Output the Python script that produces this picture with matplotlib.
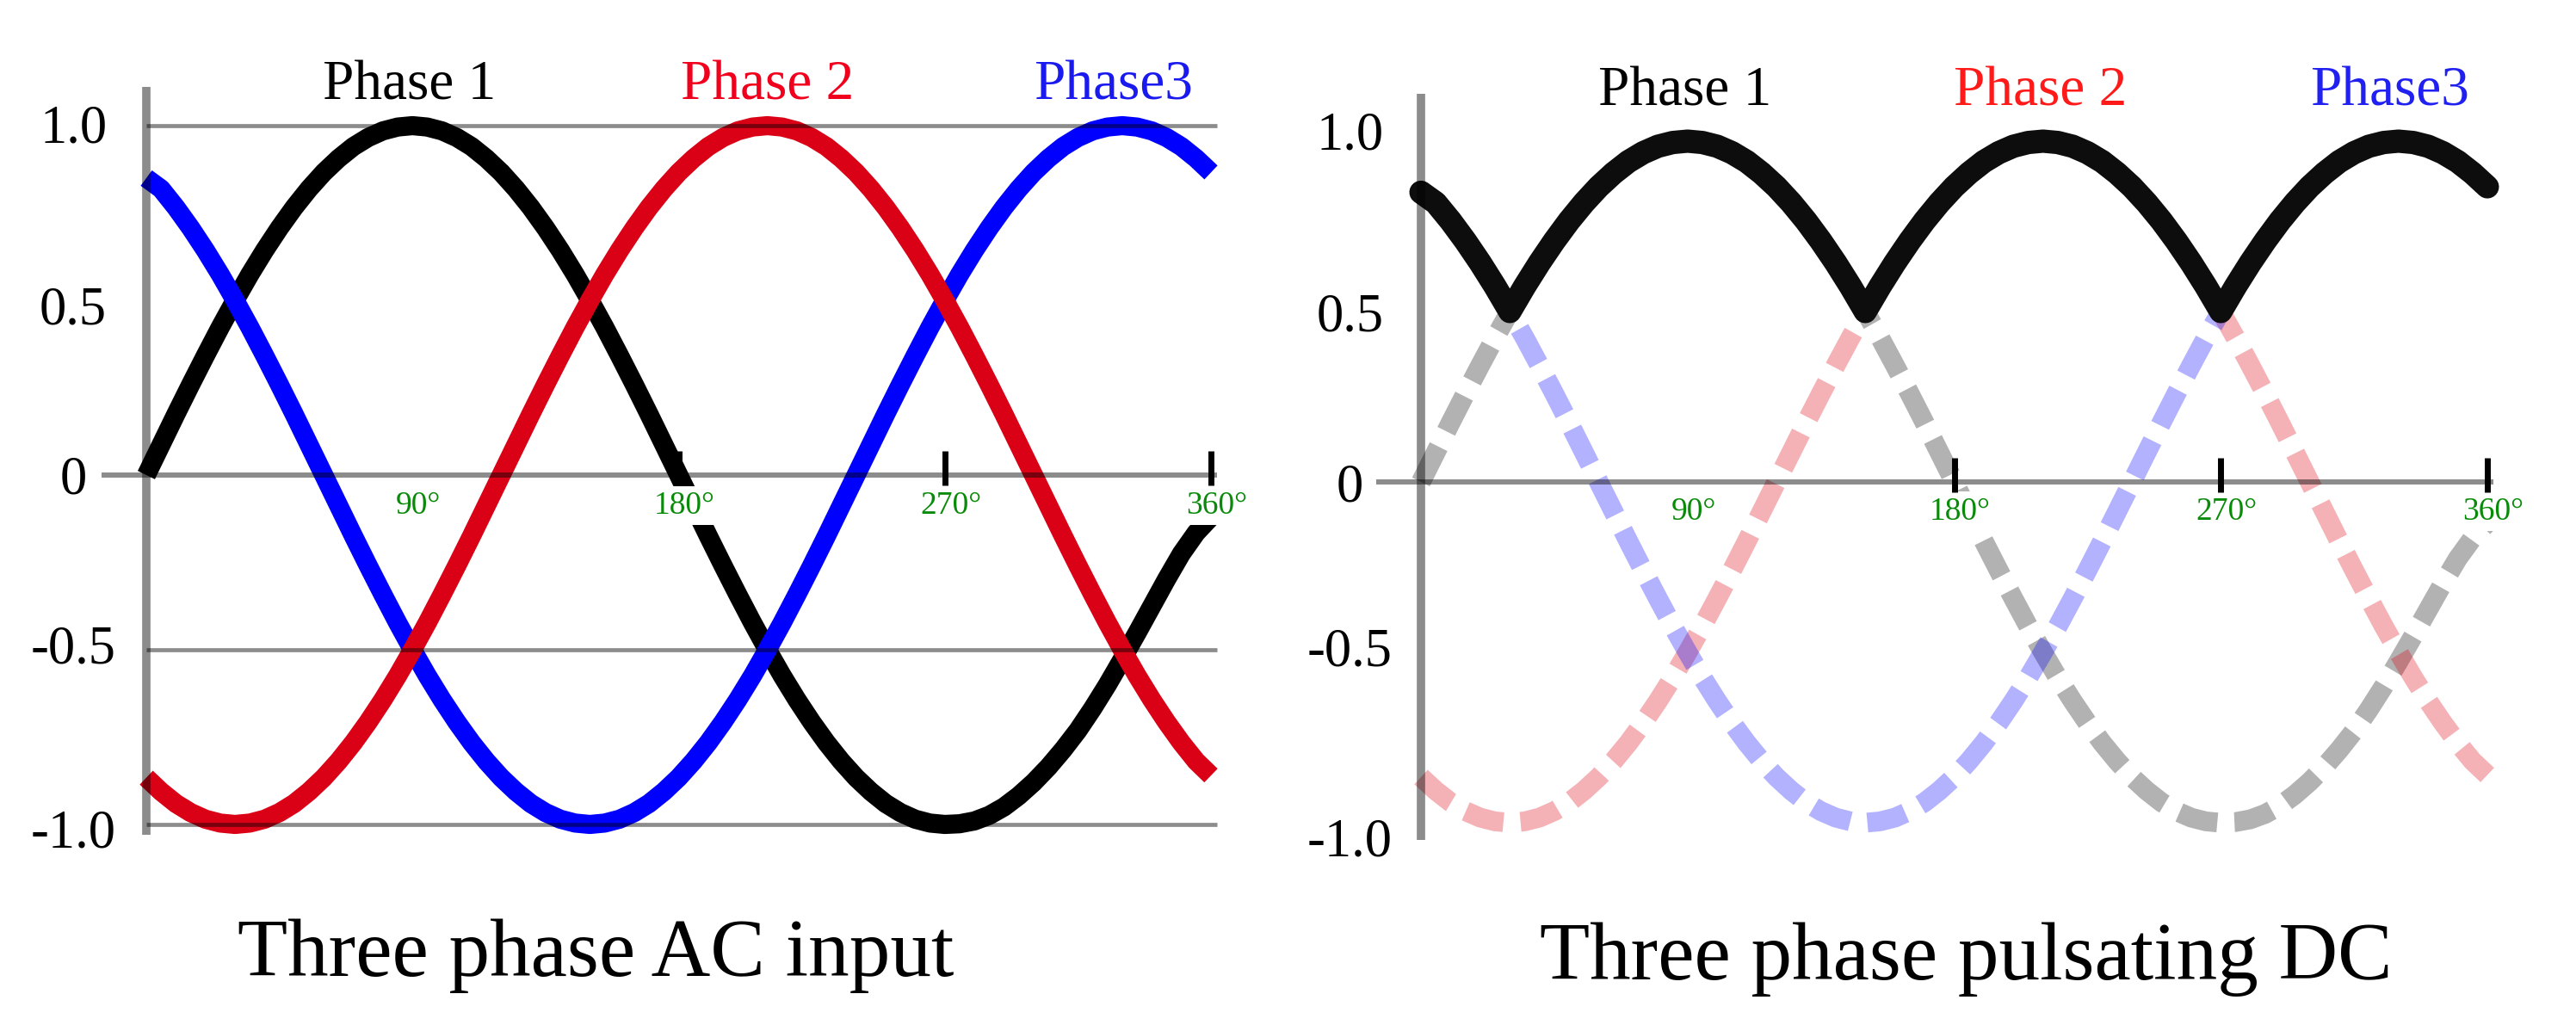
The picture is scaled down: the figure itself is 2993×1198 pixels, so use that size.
import numpy as np
import matplotlib
matplotlib.use("Agg")
import matplotlib.pyplot as plt

plt.rcParams['font.family'] = ['Liberation Serif', 'DejaVu Serif']

# angle steps (degrees) and the three phase voltages
angles = np.arange(0, 361, 5)
phase1 = [0.0, 0.087, 0.174, 0.259, 0.342, 0.423, 0.5, 0.574, 0.643, 0.707,
          0.766, 0.819, 0.866, 0.906, 0.940, 0.966, 0.985, 0.996, 1.0, 0.996,
          0.985, 0.966, 0.940, 0.906, 0.866, 0.819, 0.766, 0.707, 0.643, 0.574,
          0.5, 0.423, 0.342, 0.259, 0.174, 0.087, 0.0,
          -0.087, -0.174, -0.259, -0.342, -0.423, -0.5, -0.574, -0.643, -0.707,
          -0.766, -0.819, -0.866, -0.906, -0.940, -0.966, -0.985, -0.996, -1.0,
          -0.998, -0.990, -0.974, -0.950, -0.918, -0.880, -0.836, -0.786, -0.731,
          -0.668, -0.600, -0.527, -0.452, -0.375, -0.298, -0.225, -0.165, -0.12]
phase2 = [-0.866, -0.906, -0.940, -0.966, -0.985, -0.996, -1.0, -0.996, -0.985,
          -0.966, -0.940, -0.906, -0.866, -0.819, -0.766, -0.707, -0.643, -0.574,
          -0.5, -0.423, -0.342, -0.259, -0.174, -0.087, 0.0,
          0.087, 0.174, 0.259, 0.342, 0.423, 0.5, 0.574, 0.643, 0.707, 0.766,
          0.819, 0.866, 0.906, 0.940, 0.966, 0.985, 0.996, 1.0,
          0.996, 0.985, 0.966, 0.940, 0.906, 0.866,
          0.819, 0.766, 0.707, 0.643, 0.574, 0.5, 0.423, 0.342, 0.259, 0.174,
          0.087, 0.0,
          -0.087, -0.174, -0.259, -0.342, -0.423, -0.5, -0.574, -0.643, -0.707,
          -0.766, -0.819, -0.86]
phase3 = [0.85, 0.819, 0.766, 0.707, 0.643, 0.574, 0.5,
          0.423, 0.342, 0.259, 0.174, 0.087, 0.0,
          -0.087, -0.174, -0.259, -0.342, -0.423, -0.5,
          -0.574, -0.643, -0.707, -0.766, -0.819, -0.866,
          -0.906, -0.940, -0.966, -0.985, -0.996, -1.0,
          -0.996, -0.985, -0.966, -0.940, -0.906, -0.866,
          -0.819, -0.766, -0.707, -0.643, -0.574, -0.5, -0.423, -0.342, -0.259,
          -0.174, -0.087, 0.0,
          0.087, 0.174, 0.259, 0.342, 0.423, 0.5, 0.574, 0.643, 0.707, 0.766,
          0.819, 0.866,
          0.906, 0.940, 0.966, 0.985, 0.996, 1.0,
          0.996, 0.985, 0.966, 0.940, 0.906, 0.866]

ytick_values = [1.0, 0.5, 0.0, -0.5, -1.0]
ytick_labels = ["1.0", "0.5", "0", "-0.5", "-1.0"]
deg_ticks = [90, 180, 270, 360]
deg_labels = ["90°", "180°", "270°", "360°"]
phase_names = ["Phase 1", "Phase 2", "Phase3"]
titles = ["Three phase AC input", "Three phase pulsating DC"]

W, H = 2993, 1198
fig = plt.figure(figsize=(W / 100, H / 100), dpi=100)

GRAY = dict(color="black", alpha=0.45, solid_capstyle="butt")
GREEN = "#0a8a0a"


def panel(x0, x360, y0, yunit):
    # axes over the whole figure, scaled so that 0..360 deg lands on x0..x360 px
    ax = fig.add_axes([0, 0, 1, 1])
    sx = (x360 - x0) / 360.0
    ax.set_xlim(-x0 / sx, (W - x0) / sx)
    ax.set_ylim(-(H - y0) / yunit, y0 / yunit)
    ax.set_axis_off()
    return ax


def decorate(ax, title, yaxis_top, yaxis_bot, name_y, name_x, name_colors,
             lab_x, lab_ys, deg_y, title_x, title_y):
    ax.plot([0, 0], [yaxis_bot, yaxis_top], lw=7, zorder=4, **GRAY)
    ax.plot([-15, 362], [0, 0], lw=4.3, zorder=4, **GRAY)
    for d in deg_ticks[1:]:
        ax.plot([d, d], [0.07, -0.03], color="black", lw=5, zorder=5,
                solid_capstyle="butt")
    for d, s in zip(deg_ticks, deg_labels):
        ax.text(d + 2, deg_y, s, color=GREEN, fontsize=27, ha="center",
                va="baseline", zorder=3.5,
                bbox=dict(facecolor="white", edgecolor="none", pad=4))
    for s, yy in zip(ytick_labels, lab_ys):
        ax.text(lab_x, yy, s, fontsize=45, ha="center", va="baseline")
    for nx, s, c in zip(name_x, phase_names, name_colors):
        ax.text(nx, name_y, s, color=c, fontsize=47, ha="center", va="baseline")
    ax.text(title_x, title_y, title, fontsize=68.5, ha="center", va="baseline")


# ---- left: three phase AC input
ax_ac = panel(170, 1407, 552, 406)
ax_ac.plot(angles, phase1, color="black", lw=16, solid_capstyle="butt", zorder=2)
ax_ac.plot(angles, phase3, color="#0000ff", lw=16, solid_capstyle="butt", zorder=2.1)
ax_ac.plot(angles, phase2, color="#da0016", lw=16, solid_capstyle="butt", zorder=2.2)
for g in [1.0, -0.5, -1.0]:
    ax_ac.plot([0, 362], [g, g], lw=3.4, zorder=4, **GRAY)
decorate(ax_ac, titles[0], 1.11, -1.03, 1.074, [89, 210, 327],
         ["black", "#f0001c", "#1a1aee"], -24.7,
         [0.951, 0.433, -0.052, -0.537, -1.066], -0.11, 152, -1.433)

# ---- right: three phase pulsating DC
ax_dc = panel(1651, 2890, 560, 396)
dash = dict(lw=16.5, dashes=(2.0, 0.87), dash_capstyle="butt", alpha=0.3, zorder=2)
ax_dc.plot(angles, phase1, color="black", **dash)
ax_dc.plot(angles, phase2, color="#dd0011", **dash)
ax_dc.plot(angles, phase3, color="#0000ff", **dash)
envelope = np.maximum(np.maximum(phase1, phase2), phase3)
ax_dc.plot(angles, envelope, color="#0d0d0d", lw=19.5, solid_capstyle="round",
           solid_joinstyle="round", zorder=3)
decorate(ax_dc, titles[1], 1.14, -1.05, 1.106, [89, 209, 327],
         ["black", "#ff1a1a", "#2020f0"], -24.0,
         [0.975, 0.444, -0.056, -0.538, -1.098], -0.11, 184, -1.46)

fig.savefig("out.png", dpi=100)
